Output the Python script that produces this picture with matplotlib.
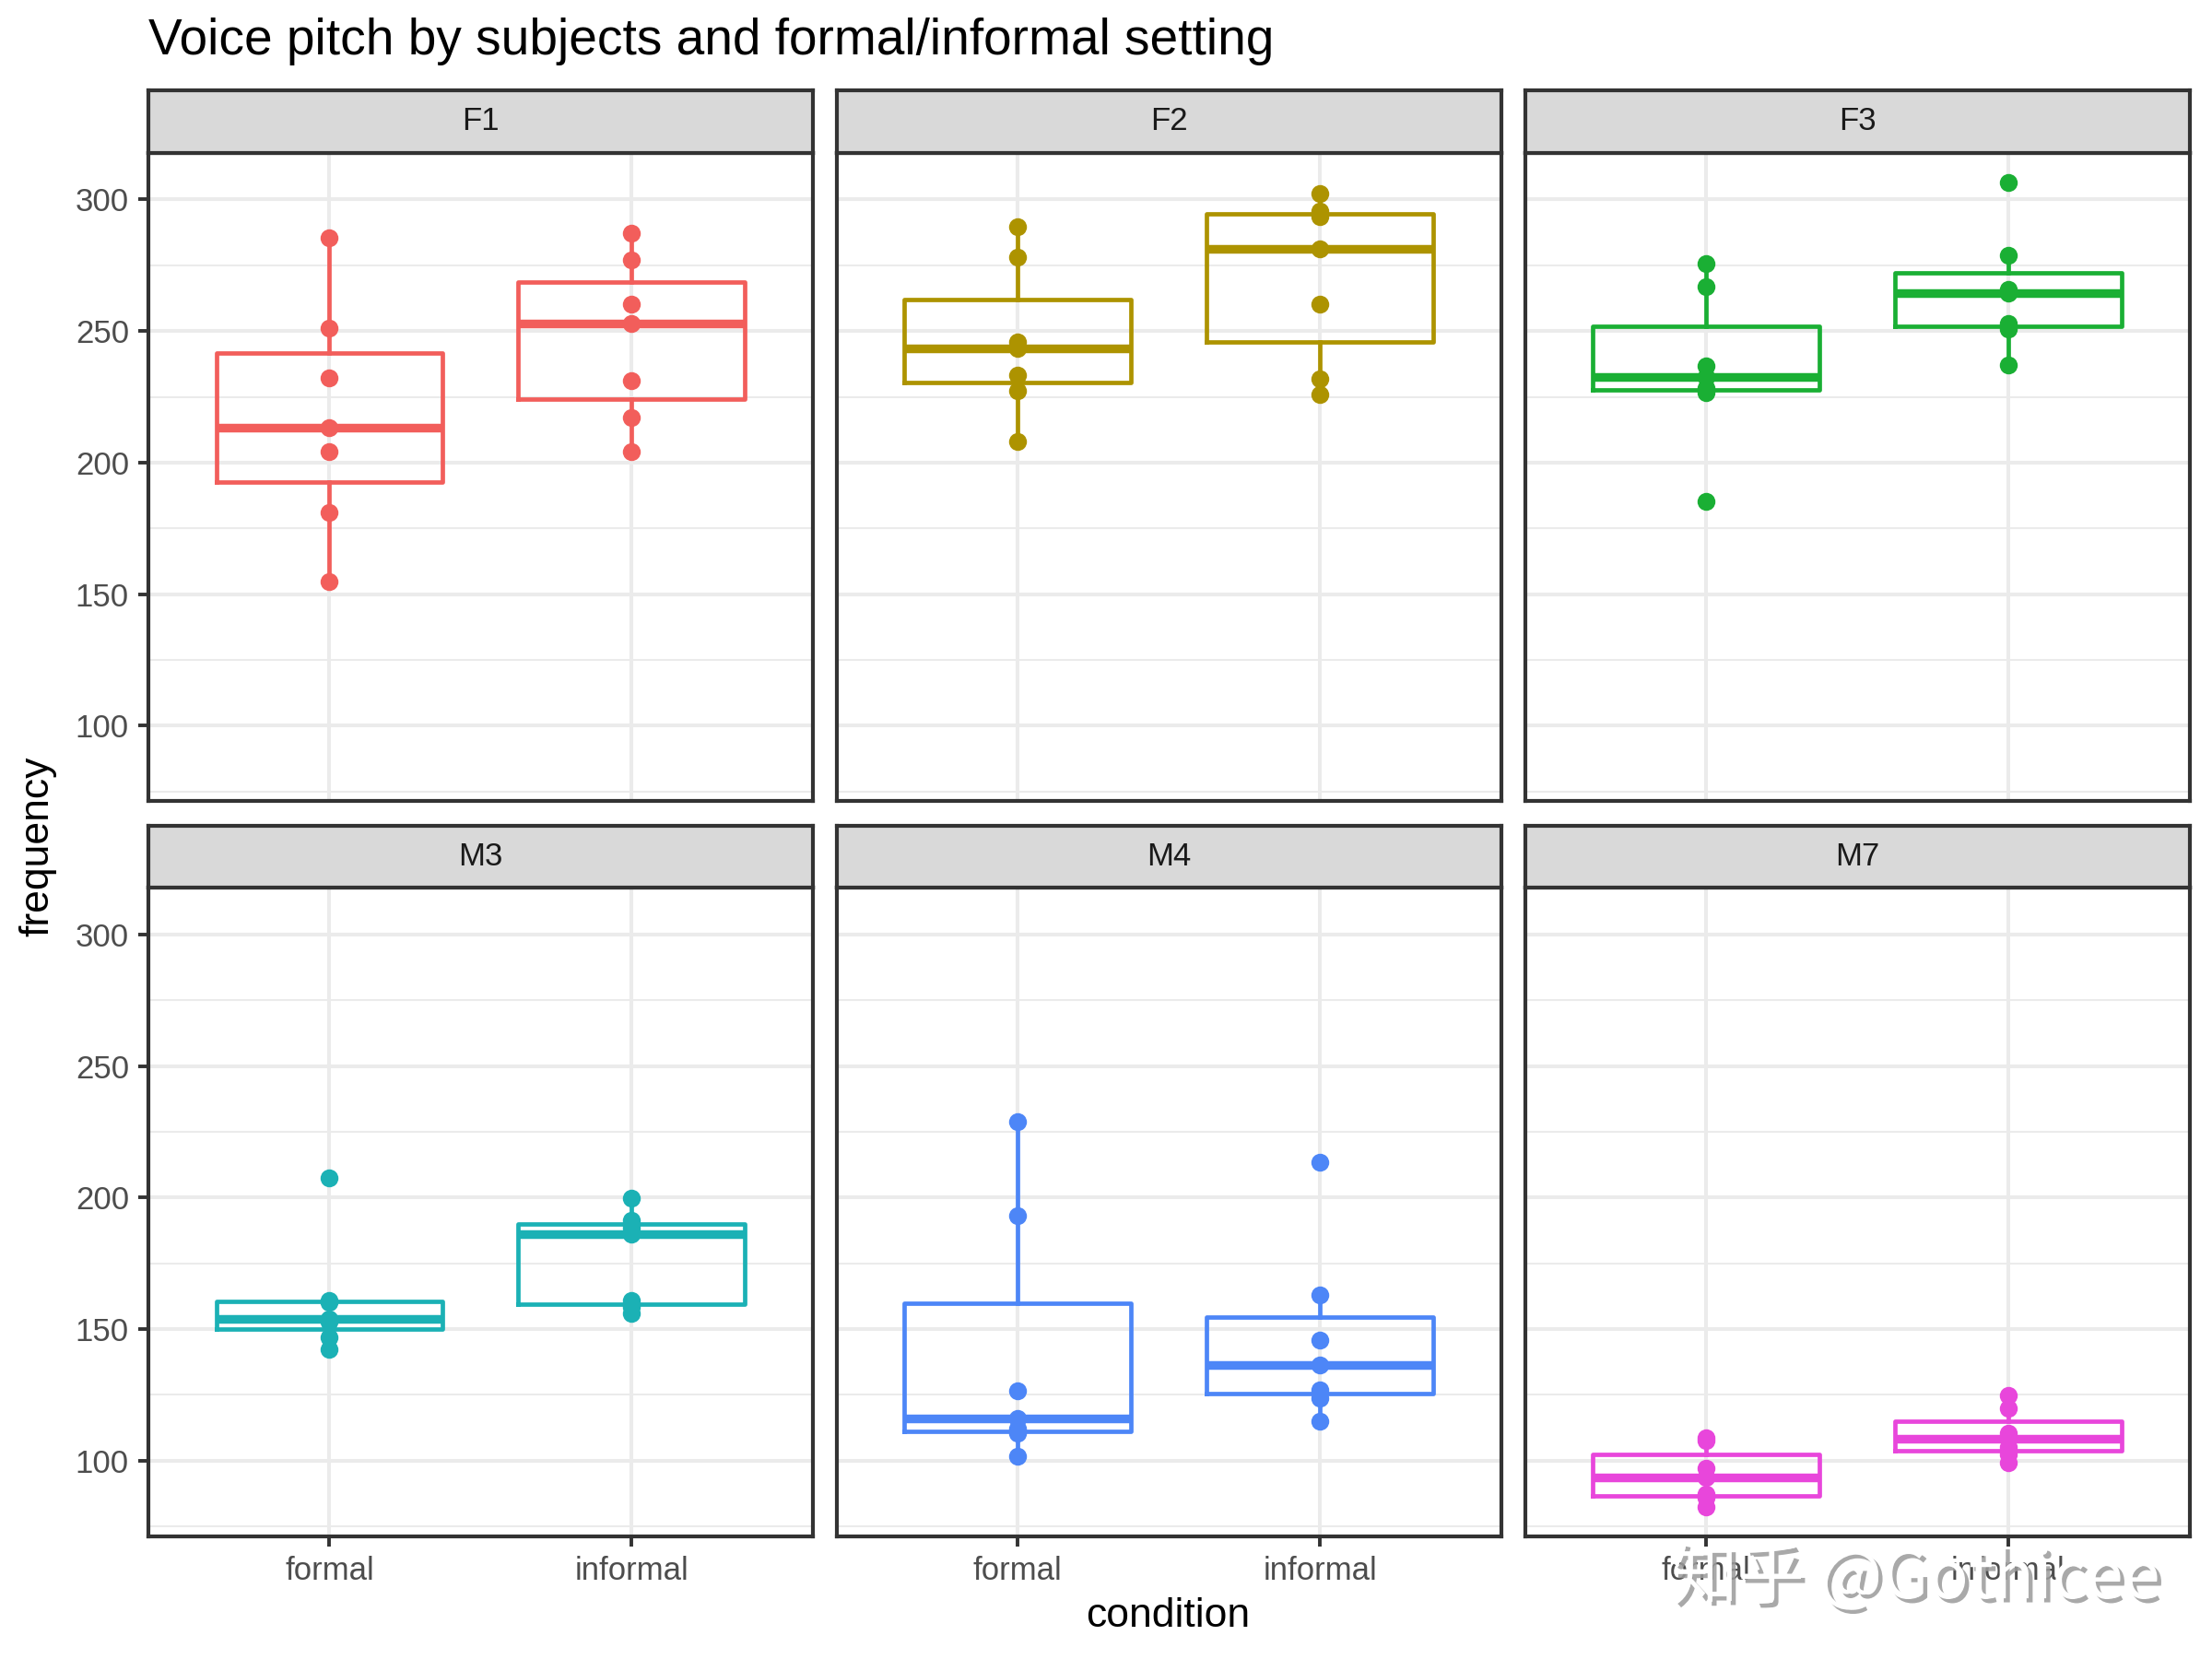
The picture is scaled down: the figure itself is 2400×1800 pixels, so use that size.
import matplotlib
matplotlib.use('Agg')
import matplotlib.pyplot as plt
import matplotlib.patheffects as pe
import numpy as np

plt.rcParams['font.family'] = ['Liberation Sans', 'DejaVu Sans']

# data (7 recordings per subject and condition)
subjects = ['F1', 'F2', 'F3', 'M3', 'M4', 'M7']
conditions = ['formal', 'informal']
f1_formal = [285.5, 251.0, 232.3, 213.4, 204.3, 181.2, 154.8]
f1_informal = [287.1, 276.9, 260.2, 252.7, 231.2, 217.2, 204.3]
f2_formal = [289.8, 278.0, 245.7, 243.5, 233.3, 227.4, 208.0]
f2_informal = [302.2, 295.7, 293.5, 281.2, 260.2, 231.7, 225.8]
f3_formal = [275.5, 266.9, 236.8, 232.4, 228.5, 226.5, 185.2]
f3_informal = [306.6, 278.7, 265.8, 264.5, 252.8, 250.8, 237.1]
m3_formal = [207.6, 160.8, 160.2, 153.8, 153.0, 146.9, 142.4]
m3_informal = [199.7, 191.3, 188.5, 186.1, 160.9, 158.4, 156.0]
m4_formal = [228.8, 193.2, 126.5, 115.9, 112.1, 110.5, 101.7]
m4_informal = [213.4, 162.9, 146.0, 136.4, 127.0, 123.7, 114.9]
m7_formal = [108.8, 107.8, 97.2, 93.8, 87.2, 85.8, 82.5]
m7_informal = [124.8, 119.8, 110.5, 108.3, 105.1, 102.5, 99.2]

# hue palette as it appears in the picture
colors = ['#F25E5B', '#AD9300', '#1AAF34', '#1BB1B5', '#4D86F7', '#E846DB']

data = {
    'F1': (f1_formal, f1_informal),
    'F2': (f2_formal, f2_informal),
    'F3': (f3_formal, f3_informal),
    'M3': (m3_formal, m3_informal),
    'M4': (m4_formal, m4_informal),
    'M7': (m7_formal, m7_informal),
}

allvals = np.concatenate([np.concatenate(v) for v in data.values()])
lo, hi = allvals.min(), allvals.max()
pad = (hi - lo) * 0.05
ylim = (lo - pad, hi + pad)

fig = plt.figure(figsize=(12, 9), dpi=200)

lefts = [0.067, 0.3782, 0.6894]
width = 0.3004
bottoms = [0.517, 0.074]
height = 0.391
strip_h = 0.0374

for i, subj in enumerate(subjects):
    row, col = divmod(i, 3)
    ax = fig.add_axes([lefts[col], bottoms[row], width, height])
    sax = fig.add_axes([lefts[col], bottoms[row] + height, width, strip_h])
    sax.set_facecolor('#D9D9D9')
    sax.set_xticks([])
    sax.set_yticks([])
    for s in sax.spines.values():
        s.set_color('#333333')
        s.set_linewidth(1.5)
    sax.text(0.5, 0.5, subj, ha='center', va='center', fontsize=12.5,
             color='#1A1A1A', transform=sax.transAxes)

    c = colors[i]
    vals = data[subj]
    ax.boxplot(vals, positions=[1, 2], widths=0.75, whis=1.5, showfliers=False,
               patch_artist=False,
               boxprops=dict(color=c, linewidth=1.7),
               whiskerprops=dict(color=c, linewidth=1.7),
               capprops=dict(linewidth=0),
               medianprops=dict(color=c, linewidth=3.4, solid_capstyle='butt'),
               zorder=3)
    for k, v in enumerate(vals):
        ax.plot(np.full(len(v), k + 1), v, 'o', color=c, markersize=7,
                markeredgewidth=0, zorder=4)

    ax.set_xlim(0.4, 2.6)
    ax.set_ylim(*ylim)
    ax.set_yticks([100, 150, 200, 250, 300])
    ax.set_yticks([75, 125, 175, 225, 275], minor=True)
    ax.set_xticks([1, 2])
    ax.grid(True, which='major', color='#EBEBEB', linewidth=1.45, zorder=0)
    ax.grid(True, which='minor', axis='y', color='#EBEBEB', linewidth=0.75, zorder=0)
    ax.set_axisbelow(True)
    ax.tick_params(which='minor', length=0)
    ax.tick_params(which='major', length=4, width=1.4, color='#333333',
                   labelsize=12.5, labelcolor='#4D4D4D')
    for s in ax.spines.values():
        s.set_color('#333333')
        s.set_linewidth(1.5)
    if row == 1:
        ax.set_xticklabels(conditions)
    else:
        ax.tick_params(axis='x', length=0)
        ax.set_xticklabels([])
    if col != 0:
        ax.tick_params(axis='y', length=0)
        ax.set_yticklabels([])

fig.text(0.067, 0.975, 'Voice pitch by subjects and formal/informal setting',
         fontsize=19.8, ha='left', va='center', color='black')
fig.text(0.017, 0.49, 'frequency', rotation=90, fontsize=16, ha='center', va='center')
fig.text(0.528, 0.026, 'condition', fontsize=16, ha='center', va='center')

# watermark of the source site: white letters with a grey drop shadow
fig.text(0.866, 0.048, '知乎 @Gothicee', fontsize=26, ha='center', va='center',
         color='white', fontweight='light',
         family=['Noto Sans CJK SC', 'DejaVu Sans'],
         path_effects=[pe.withSimplePatchShadow(offset=(1.6, -1.6),
                                                shadow_rgbFace='#9A9A9A', alpha=0.85)])

fig.savefig('out.png', dpi=200)
